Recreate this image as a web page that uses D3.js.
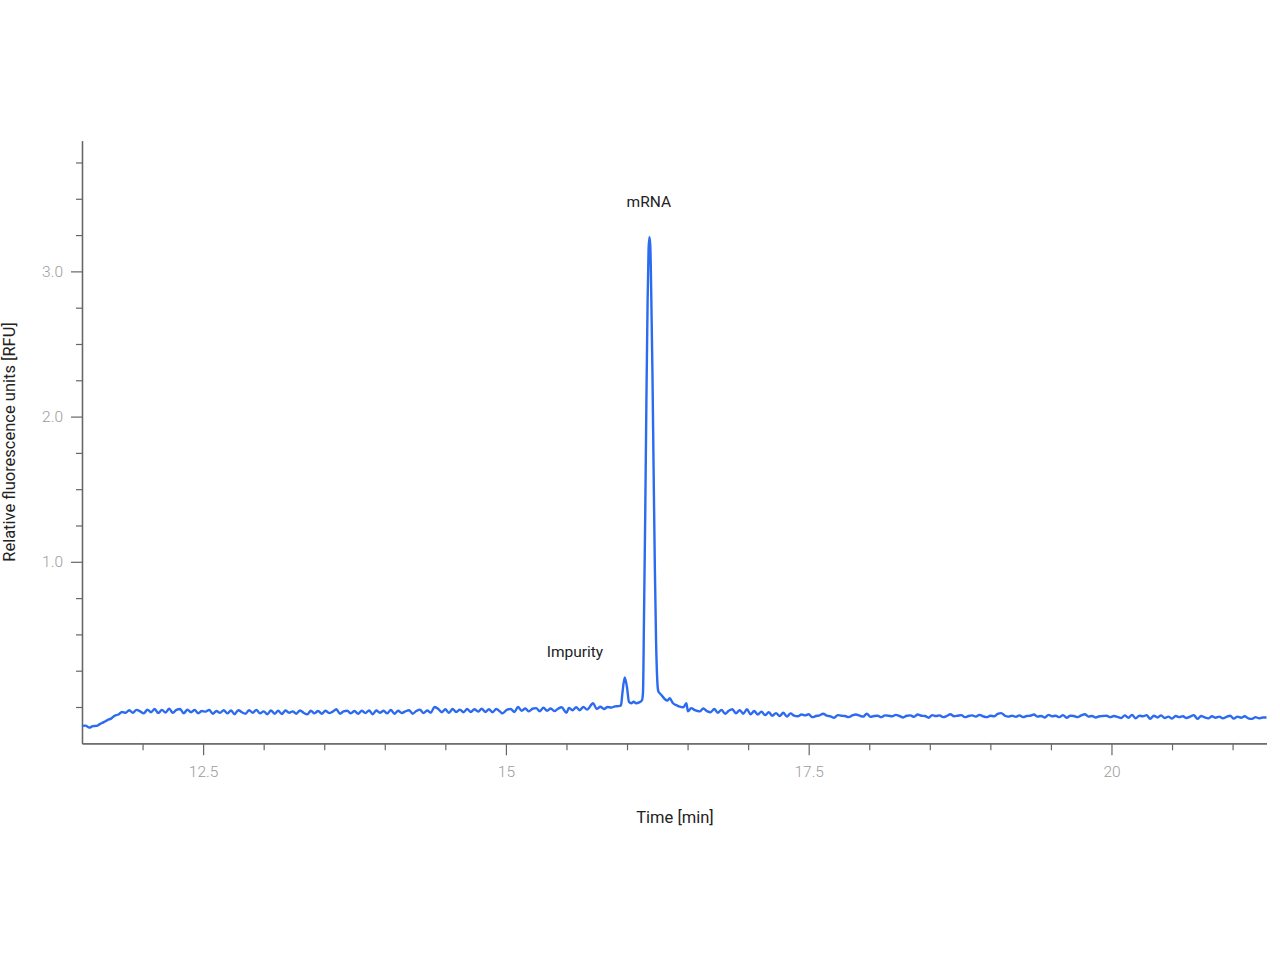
<!DOCTYPE html>
<html>
<head>
<meta charset="utf-8">
<script src="https://cdn.jsdelivr.net/npm/d3@7"></script>
<style>
  html, body { margin: 0; padding: 0; background: #fff; }
  svg { display: block; }
  text { font-family: Roboto, "Noto Sans", sans-serif; }
</style>
</head>
<body>
<svg id="chart" width="1280" height="960"></svg>
<script>
// ---- Data (time in min, signal in RFU) ----
const xDomain = [11.5, 21.28];
const yDomain = [-0.25, 3.9];
const xMajorTicks = [12.5, 15, 17.5, 20];
const xMinorTicks = [12, 13, 13.5, 14, 14.5, 15.5, 16, 16.5, 17, 18, 18.5, 19, 19.5, 20.5, 21];
const yMajorTicks = [1.0, 2.0, 3.0];
const yMinorTicks = [0, 0.25, 0.5, 0.75, 1.25, 1.5, 1.75, 2.25, 2.5, 2.75, 3.25, 3.5, 3.75];
const xTitle = "Time [min]";
const yTitle = "Relative fluorescence units [RFU]";
const peakLabels = [
  { name: "mRNA", t: 16.18, v: 3.48 },
  { name: "Impurity", t: 15.57, v: 0.38 }
];

const baselineBefore = [
  [11.50,-0.130],[11.53,-0.128],[11.56,-0.142],[11.59,-0.132],[11.62,-0.130],[11.65,-0.116],
  [11.68,-0.104],[11.71,-0.090],[11.74,-0.080],[11.77,-0.060],[11.80,-0.052],[11.83,-0.034],
  [11.86,-0.040],[11.89,-0.022],[11.92,-0.040],[11.95,-0.020],[11.98,-0.030],[12.01,-0.044],
  [12.04,-0.018],[12.07,-0.036],[12.10,-0.014],[12.13,-0.042],[12.16,-0.020],[12.19,-0.038],
  [12.22,-0.012],[12.25,-0.040],[12.28,-0.020],[12.31,-0.014],[12.34,-0.044],[12.37,-0.018],
  [12.40,-0.036],[12.43,-0.020],[12.46,-0.044],[12.49,-0.028],[12.52,-0.032],[12.55,-0.020],
  [12.58,-0.046],[12.61,-0.028],[12.64,-0.040],[12.67,-0.022],[12.70,-0.044],[12.73,-0.024],
  [12.76,-0.050],[12.79,-0.022],[12.82,-0.036],[12.85,-0.046],[12.88,-0.022],[12.91,-0.040],
  [12.94,-0.020],[12.97,-0.044],[13.00,-0.030],[13.03,-0.050],[13.06,-0.024],[13.09,-0.046],
  [13.12,-0.026],[13.15,-0.048],[13.18,-0.024],[13.21,-0.040],[13.24,-0.030],[13.27,-0.046],
  [13.30,-0.024],[13.33,-0.040],[13.36,-0.050],[13.39,-0.026],[13.42,-0.044],[13.45,-0.028],
  [13.48,-0.046],[13.51,-0.026],[13.54,-0.042],[13.57,-0.032],[13.60,-0.016],[13.63,-0.046],
  [13.66,-0.030],[13.69,-0.026],[13.72,-0.044],[13.75,-0.028],[13.78,-0.046],[13.81,-0.026],
  [13.84,-0.042],[13.87,-0.024],[13.90,-0.050],[13.93,-0.024],[13.96,-0.040],[13.99,-0.026],
  [14.02,-0.044],[14.05,-0.020],[14.08,-0.046],[14.11,-0.026],[14.14,-0.042],[14.17,-0.030],
  [14.20,-0.022],[14.23,-0.046],[14.26,-0.028],[14.29,-0.018],[14.32,-0.042],[14.35,-0.024],
  [14.38,-0.040],[14.41,0.000],[14.44,-0.012],[14.47,-0.036],[14.50,-0.016],[14.53,-0.040],
  [14.56,-0.014],[14.59,-0.034],[14.62,-0.018],[14.65,-0.036],[14.68,-0.014],[14.71,-0.034],
  [14.74,-0.016],[14.77,-0.032],[14.80,-0.012],[14.83,-0.034],[14.86,-0.016],[14.89,-0.036],
  [14.92,-0.014],[14.95,-0.030],[14.97,-0.044],[15.01,-0.018],[15.04,-0.014],[15.07,-0.034],
  [15.10,0.000],[15.13,-0.026],[15.16,-0.010],[15.19,-0.030],[15.22,-0.012],[15.25,-0.008],
  [15.28,-0.030],[15.31,-0.004],[15.34,-0.026],[15.37,-0.010],[15.40,-0.028],[15.43,-0.012],
  [15.46,-0.002],[15.50,-0.040],[15.52,-0.006],[15.55,-0.022],[15.58,-0.002],[15.61,-0.022],
  [15.64,0.000],[15.67,-0.018],[15.72,0.026],[15.75,-0.014],[15.78,0.002],[15.81,-0.014],
  [15.84,0.000],[15.87,-0.004],[15.90,0.004],[15.93,0.006]
];

const impurityPeak = [
  [15.950,0.012],[15.962,0.095],[15.981,0.204],[16.000,0.135],[16.016,0.036],[16.035,0.026],
  [16.055,0.036],[16.075,0.026],[16.100,0.032],[16.124,0.048]
];

const mainPeak = [
  [16.132,0.100],[16.140,0.600],[16.150,1.300],[16.160,2.100],[16.170,2.800],[16.178,3.150],
  [16.185,3.235],[16.192,3.180],[16.200,2.850],[16.210,2.300],[16.220,1.600],[16.230,0.950],
  [16.240,0.450],[16.250,0.180],[16.258,0.110],[16.270,0.095]
];

const baselineAfter = [
  [16.284,0.083],[16.311,0.055],[16.335,0.044],[16.352,0.060],[16.380,0.026],[16.410,0.012],
  [16.435,0.002],[16.465,-0.002],[16.490,0.026],[16.503,-0.030],[16.53,-0.008],[16.56,-0.022],
  [16.60,-0.030],[16.63,-0.010],[16.66,-0.028],[16.69,-0.036],[16.72,-0.014],[16.75,-0.040],
  [16.78,-0.020],[16.81,-0.046],[16.84,-0.026],[16.87,-0.016],[16.90,-0.044],[16.93,-0.022],
  [16.96,-0.046],[16.99,-0.016],[17.02,-0.050],[17.05,-0.028],[17.08,-0.052],[17.11,-0.032],
  [17.14,-0.056],[17.17,-0.036],[17.20,-0.060],[17.23,-0.042],[17.26,-0.062],[17.29,-0.040],
  [17.32,-0.066],[17.35,-0.044],[17.38,-0.060],[17.41,-0.064],[17.44,-0.052],[17.47,-0.058],
  [17.50,-0.050],[17.53,-0.070],[17.56,-0.062],[17.59,-0.058],[17.62,-0.046],[17.65,-0.060],
  [17.68,-0.064],[17.71,-0.074],[17.74,-0.056],[17.77,-0.060],[17.80,-0.062],[17.83,-0.070],
  [17.86,-0.058],[17.89,-0.052],[17.92,-0.060],[17.95,-0.066],[17.98,-0.046],[18.01,-0.068],
  [18.04,-0.062],[18.07,-0.060],[18.10,-0.070],[18.13,-0.058],[18.16,-0.060],[18.19,-0.064],
  [18.22,-0.054],[18.25,-0.062],[18.28,-0.072],[18.31,-0.060],[18.34,-0.058],[18.37,-0.068],
  [18.40,-0.052],[18.43,-0.060],[18.46,-0.062],[18.49,-0.074],[18.52,-0.056],[18.55,-0.062],
  [18.58,-0.058],[18.61,-0.070],[18.64,-0.062],[18.67,-0.050],[18.70,-0.064],[18.73,-0.060],
  [18.76,-0.056],[18.79,-0.070],[18.82,-0.062],[18.85,-0.058],[18.88,-0.066],[18.91,-0.054],
  [18.94,-0.064],[18.97,-0.070],[19.00,-0.060],[19.03,-0.064],[19.06,-0.048],[19.09,-0.042],
  [19.12,-0.060],[19.15,-0.066],[19.18,-0.060],[19.21,-0.068],[19.24,-0.058],[19.27,-0.070],
  [19.30,-0.062],[19.33,-0.060],[19.36,-0.052],[19.39,-0.066],[19.42,-0.062],[19.45,-0.072],
  [19.48,-0.054],[19.51,-0.064],[19.54,-0.060],[19.57,-0.070],[19.60,-0.056],[19.63,-0.074],
  [19.66,-0.060],[19.69,-0.062],[19.72,-0.070],[19.75,-0.058],[19.78,-0.050],[19.81,-0.066],
  [19.84,-0.062],[19.87,-0.072],[19.90,-0.064],[19.93,-0.062],[19.96,-0.060],[19.99,-0.070],
  [20.02,-0.062],[20.05,-0.068],[20.08,-0.076],[20.11,-0.058],[20.14,-0.074],[20.17,-0.054],
  [20.20,-0.078],[20.23,-0.060],[20.26,-0.064],[20.29,-0.056],[20.32,-0.082],[20.35,-0.060],
  [20.38,-0.072],[20.41,-0.058],[20.44,-0.076],[20.47,-0.066],[20.50,-0.080],[20.53,-0.062],
  [20.56,-0.070],[20.59,-0.064],[20.62,-0.076],[20.65,-0.066],[20.68,-0.056],[20.71,-0.082],
  [20.74,-0.062],[20.77,-0.072],[20.80,-0.078],[20.83,-0.064],[20.86,-0.074],[20.89,-0.066],
  [20.92,-0.078],[20.95,-0.068],[20.98,-0.060],[21.01,-0.080],[21.04,-0.066],[21.07,-0.074],
  [21.10,-0.064],[21.13,-0.078],[21.16,-0.082],[21.19,-0.070],[21.22,-0.078],[21.25,-0.072],
  [21.28,-0.072]
];

// ---- Drawing ----
const svg = d3.select("#chart");
const mLeft = 82, mRight = 1266.5, mTop = 140.7, mBottom = 743.3;
const x = d3.scaleLinear().domain(xDomain).range([mLeft, mRight]);
const y = d3.scaleLinear().domain(yDomain).range([mBottom, mTop]);
const axisColor = "#666";
const tickLabelColor = "#9b9b9b";

const series = [].concat(baselineBefore, impurityPeak, mainPeak, baselineAfter);

// X axis: minor then major
const gxMinor = svg.append("g").attr("transform", `translate(0,${mBottom})`)
  .call(d3.axisBottom(x).tickValues(xMinorTicks).tickSize(7).tickSizeOuter(0).tickFormat(""));
const gx = svg.append("g").attr("transform", `translate(0,${mBottom})`)
  .call(d3.axisBottom(x).tickValues(xMajorTicks).tickSize(12).tickSizeOuter(0).tickPadding(11)
    .tickFormat(d => String(d)));
[gxMinor, gx].forEach(g => {
  g.select(".domain").attr("stroke", axisColor).attr("stroke-width", 1.3);
  g.selectAll(".tick line").attr("stroke", axisColor).attr("stroke-width", 1.2);
});
gx.selectAll(".tick text").attr("fill", tickLabelColor).attr("font-size", 15.5)
  .style("font-family", "Roboto, sans-serif").attr("font-weight", 300);

// Y axis
const gyMinor = svg.append("g").attr("transform", `translate(${mLeft},0)`)
  .call(d3.axisLeft(y).tickValues(yMinorTicks).tickSize(6).tickSizeOuter(0).tickFormat(""));
const gy = svg.append("g").attr("transform", `translate(${mLeft},0)`)
  .call(d3.axisLeft(y).tickValues(yMajorTicks).tickSize(11).tickSizeOuter(0).tickPadding(8)
    .tickFormat(d3.format(".1f")));
[gyMinor, gy].forEach(g => {
  g.select(".domain").attr("stroke", axisColor).attr("stroke-width", 1.3);
  g.selectAll(".tick line").attr("stroke", axisColor).attr("stroke-width", 1.2);
});
gy.selectAll(".tick text").attr("fill", tickLabelColor).attr("font-size", 15.5)
  .style("font-family", "Roboto, sans-serif").attr("font-weight", 300);

// Titles
svg.append("text")
  .attr("x", 675).attr("y", 823)
  .attr("text-anchor", "middle").attr("fill", "#222").attr("font-size", 16.5)
  .text(xTitle);
svg.append("text")
  .attr("transform", `translate(14.5,442) rotate(-90)`)
  .attr("text-anchor", "middle").attr("fill", "#222").attr("font-size", 16.5)
  .text(yTitle);

// Line
const line = d3.line()
  .x(d => x(d[0])).y(d => y(d[1]))
  .curve(d3.curveMonotoneX);
svg.append("path")
  .datum(series)
  .attr("fill", "none")
  .attr("stroke", "#2a6bf0")
  .attr("stroke-width", 2.4)
  .attr("stroke-linejoin", "round")
  .attr("d", line);

// Peak labels
svg.selectAll(".peak-label").data(peakLabels).enter().append("text")
  .attr("class", "peak-label")
  .attr("x", d => x(d.t)).attr("y", d => y(d.v) + 5)
  .attr("text-anchor", "middle").attr("fill", "#222").attr("font-size", 15.5)
  .text(d => d.name);
</script>
</body>
</html>
